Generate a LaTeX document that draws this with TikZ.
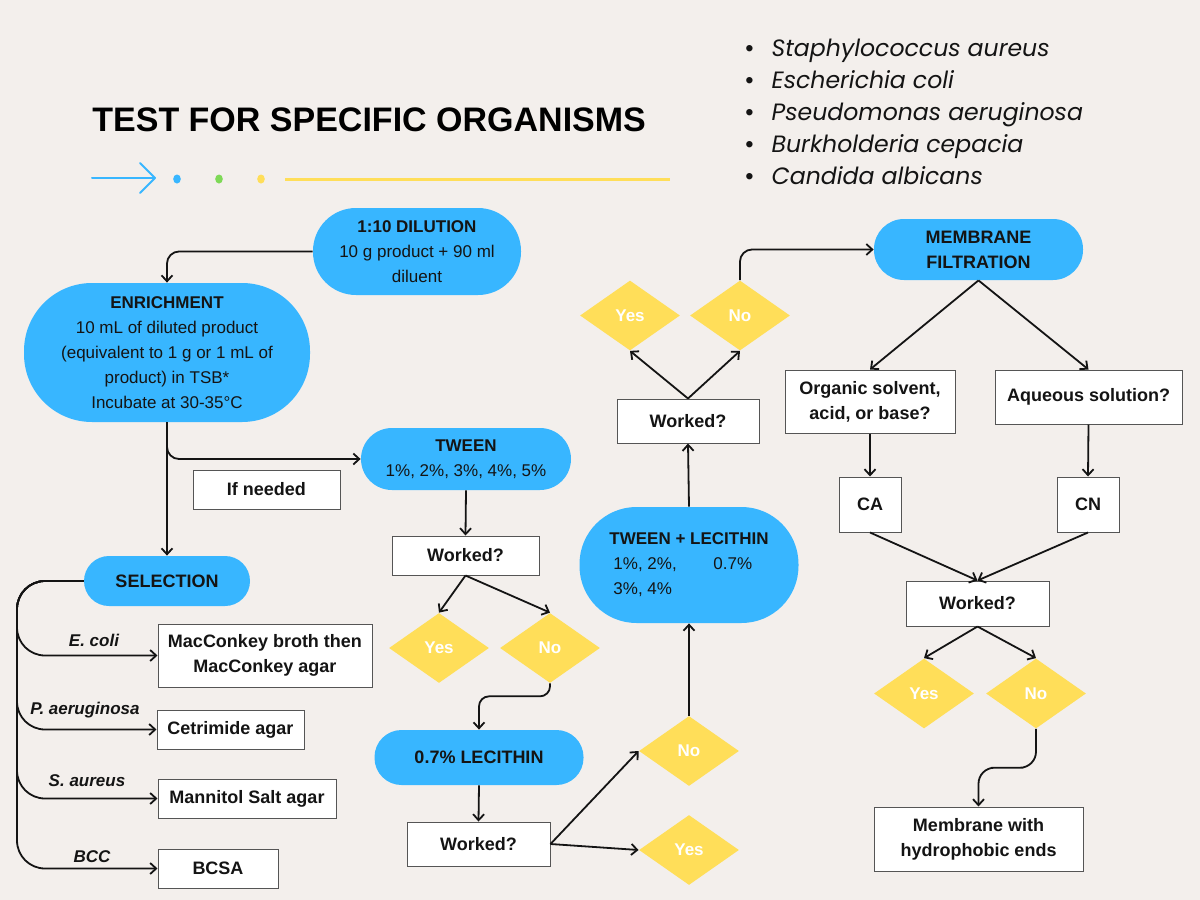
\documentclass[tikz,border=0pt]{standalone}
\usepackage{fontspec}
\setmainfont{Liberation Sans}
\newfontfamily\poppins{Poppins}
\usetikzlibrary{arrows.meta,shapes.geometric,calc}
\definecolor{bg}{HTML}{F3EFEC}
\definecolor{pillblue}{HTML}{38B6FF}
\definecolor{dyellow}{HTML}{FFDE59}
\definecolor{dgreen}{HTML}{7ED957}
\definecolor{ink}{HTML}{141414}
\definecolor{boxline}{HTML}{555555}
\tikzset{
  pill/.style={fill=pillblue, draw=none, inner sep=0pt, align=center, text=ink,
    font=\fontsize{8.5}{12.5}\selectfont},
  box/.style={fill=white, draw=boxline, line width=0.5pt, inner sep=0pt, align=center, text=ink,
    font=\bfseries\fontsize{9}{12.5}\selectfont},
  dia/.style={diamond, fill=dyellow, draw=none, inner sep=0pt, minimum width=50pt, minimum height=35pt,
    text=white, font=\bfseries\fontsize{8.5}{10}\selectfont},
  arr/.style={-{Straight Barb[length=3pt,width=5.5pt]}, line width=0.9pt, draw=ink},
  ln/.style={line width=0.9pt, draw=ink},
  lbl/.style={text=ink, font=\bfseries\itshape\fontsize{8.5}{10}\selectfont, inner sep=0pt},
}
\begin{document}
\begin{tikzpicture}[x=0.5pt, y=-0.5pt]
\useasboundingbox (0,0) rectangle (1200,900);
\fill[bg] (0,0) rectangle (1200,900);

% header
\node[anchor=base west, inner sep=0pt, text=black, font=\bfseries\fontsize{17}{20}\selectfont] (title) at (92,131) {TEST FOR SPECIFIC ORGANISMS};
\draw[pillblue, line width=1pt, line cap=round, line join=round] (92,178) -- (155,178);
\draw[pillblue, line width=1pt, line cap=round, line join=round] (140,163) -- (155,178) -- (140,193);
\fill[pillblue] (177,179) ellipse (3.8 and 4.5);
\fill[dgreen] (219,179) ellipse (3.8 and 4.5);
\fill[dyellow] (261,179) ellipse (3.8 and 4.5);
\draw[dyellow, line width=1.5pt] (285,179) -- (670,179);

\node[anchor=west, inner sep=0pt, text=ink, font=\fontsize{11.8}{16}\selectfont] (list) at (745,114) {%
\begin{tabular}{@{}l@{\hspace{9pt}}l@{}}
\textbullet & {\poppins\itshape Staphylococcus aureus}\\
\textbullet & {\poppins\itshape Escherichia coli}\\
\textbullet & {\poppins\itshape Pseudomonas aeruginosa}\\
\textbullet & {\poppins\itshape Burkholderia cepacia}\\
\textbullet & {\poppins\itshape Candida albicans}
\end{tabular}};

% pills
\node[pill, minimum width=104pt, minimum height=43.5pt, rounded corners=21.5pt] (dil) at (417,251.5)
  {\textbf{1:10 DILUTION}\\10 g product + 90 ml\\diluent};
\node[pill, minimum width=143pt, minimum height=69.5pt, rounded corners=34pt] (enr) at (167,352.5)
  {\textbf{ENRICHMENT}\\10 mL of diluted product\\(equivalent to 1 g or 1 mL of\\product) in TSB*\\Incubate at 30-35°C};
\node[pill, minimum width=105pt, minimum height=31pt, rounded corners=15.5pt] (tween) at (466,459)
  {\textbf{TWEEN}\\1\%, 2\%, 3\%, 4\%, 5\%};
\node[pill, minimum width=104.5pt, minimum height=27.5pt, rounded corners=13.5pt, font=\bfseries\fontsize{9}{12.5}\selectfont] (lec) at (479,757.5)
  {0.7\% LECITHIN};
\node[pill, minimum width=109.5pt, minimum height=58pt, rounded corners=28.5pt, align=left] (twlec) at (689,565)
  {\textbf{TWEEN + LECITHIN}\\\hspace*{2pt}\makebox[50pt][l]{1\%, 2\%,}0.7\%\\\hspace*{2pt}3\%, 4\%};
\node[pill, minimum width=104.5pt, minimum height=30.5pt, rounded corners=15pt, font=\bfseries\fontsize{9}{12.5}\selectfont] (memb) at (978.5,249.5)
  {MEMBRANE\\FILTRATION};
\node[pill, minimum width=83pt, minimum height=25pt, rounded corners=12.5pt, font=\bfseries\fontsize{9}{12.5}\selectfont] (sel) at (167,581)
  {SELECTION};

% boxes
\node[box, minimum width=73.5pt, minimum height=19.5pt] (ifn) at (266.5,489.5) {If needed};
\node[box, minimum width=73.5pt, minimum height=19.5pt] (w1) at (465.5,555.5) {Worked?};
\node[box, minimum width=71.5pt, minimum height=22pt] (w2) at (478.5,844) {Worked?};
\node[box, minimum width=71pt, minimum height=22pt] (w3) at (688,421) {Worked?};
\node[box, minimum width=85pt, minimum height=31.5pt] (org) at (870,401.5) {Organic solvent,\\acid, or base?};
\node[box, minimum width=93.5pt, minimum height=27pt] (aq) at (1088.5,397) {Aqueous solution?};
\node[box, minimum width=31pt, minimum height=27.5pt] (ca) at (870,504.5) {CA};
\node[box, minimum width=31pt, minimum height=27.5pt] (cn) at (1088,504.5) {CN};
\node[box, minimum width=71.5pt, minimum height=22.5pt] (w4) at (977.5,603.5) {Worked?};
\node[box, minimum width=104.5pt, minimum height=32pt] (memb2) at (978.5,839) {Membrane with\\hydrophobic ends};
\node[box, minimum width=107pt, minimum height=31.5pt] (mac) at (265,655.5) {MacConkey broth then\\MacConkey agar};
\node[box, minimum width=73.5pt, minimum height=19.5pt] (cet) at (230.5,729.5) {Cetrimide agar};
\node[box, minimum width=89pt, minimum height=19.5pt] (man) at (247,798.5) {Mannitol Salt agar};
\node[box, minimum width=60pt, minimum height=19.5pt] (bcsa) at (218,868.5) {BCSA};

% diamonds
\node[dia] (yes1) at (439,648) {Yes};
\node[dia] (no1) at (550,648) {No};
\node[dia] (no2) at (689,751) {No};
\node[dia] (yes2) at (689,850) {Yes};
\node[dia] (yes3) at (630,315.5) {Yes};
\node[dia] (no3) at (740,315.5) {No};
\node[dia] (yes4) at (924,693.5) {Yes};
\node[dia] (no4) at (1036,693.5) {No};

% selection labels
\node[lbl] (lecoli) at (94,640) {E. coli};
\node[lbl] (lpaer) at (85,710) {P. aeruginosa};
\node[lbl] (lsaur) at (87,781) {S. aureus};
\node[lbl] (lbcc) at (92,857) {BCC};

% connectors
\draw[arr, rounded corners=6pt] (dil.west) -| (enr.north);
\draw[arr, rounded corners=6pt] (enr.south) |- (tween.west);
\draw[arr] (enr.south) -- (sel.north);
\draw[arr] (tween.south) -- (w1.north);
\draw[arr] (w1.south) -- (yes1.north);
\draw[arr] (w1.south) -- (no1.north);
\draw[arr, rounded corners=5pt] (no1.south) |- ($(no1.south)!0.28!(lec.north)$) -| (lec.north);
\draw[arr] (lec.south) -- (w2.north);
\draw[arr] (w2.east) -- (no2.west);
\draw[arr] (w2.east) -- (yes2.west);
\draw[arr] (no2.north) -- (twlec.south);
\draw[arr] (twlec.north) -- (w3.south);
\draw[arr] (w3.north) -- (yes3.south);
\draw[arr] (w3.north) -- (no3.south);
\draw[arr, rounded corners=6pt] (no3.north) |- (memb.west);
\draw[arr] (memb.south) -- (org.north);
\draw[arr] (memb.south) -- (aq.north);
\draw[arr] (org.south) -- (ca.north);
\draw[arr] (aq.south) -- (cn.north);
\draw[arr] (ca.south) -- (w4.north);
\draw[arr] (cn.south) -- (w4.north);
\draw[arr] (w4.south) -- (yes4.north);
\draw[arr] (w4.south) -- (no4.north);
\draw[arr, rounded corners=8pt] (no4.south) |- ($(no4.south)!0.5!(memb2.north)$) -| (memb2.north);

\coordinate (trunk) at (17,581);
\draw[arr, rounded corners=14pt] (sel.west) -- (trunk) |- (mac.west);
\draw[arr, rounded corners=14pt] (sel.west) -- (trunk) |- (cet.west);
\draw[arr, rounded corners=14pt] (sel.west) -- (trunk) |- (man.west);
\draw[arr, rounded corners=14pt] (sel.west) -- (trunk) |- (bcsa.west);
\end{tikzpicture}
\end{document}
